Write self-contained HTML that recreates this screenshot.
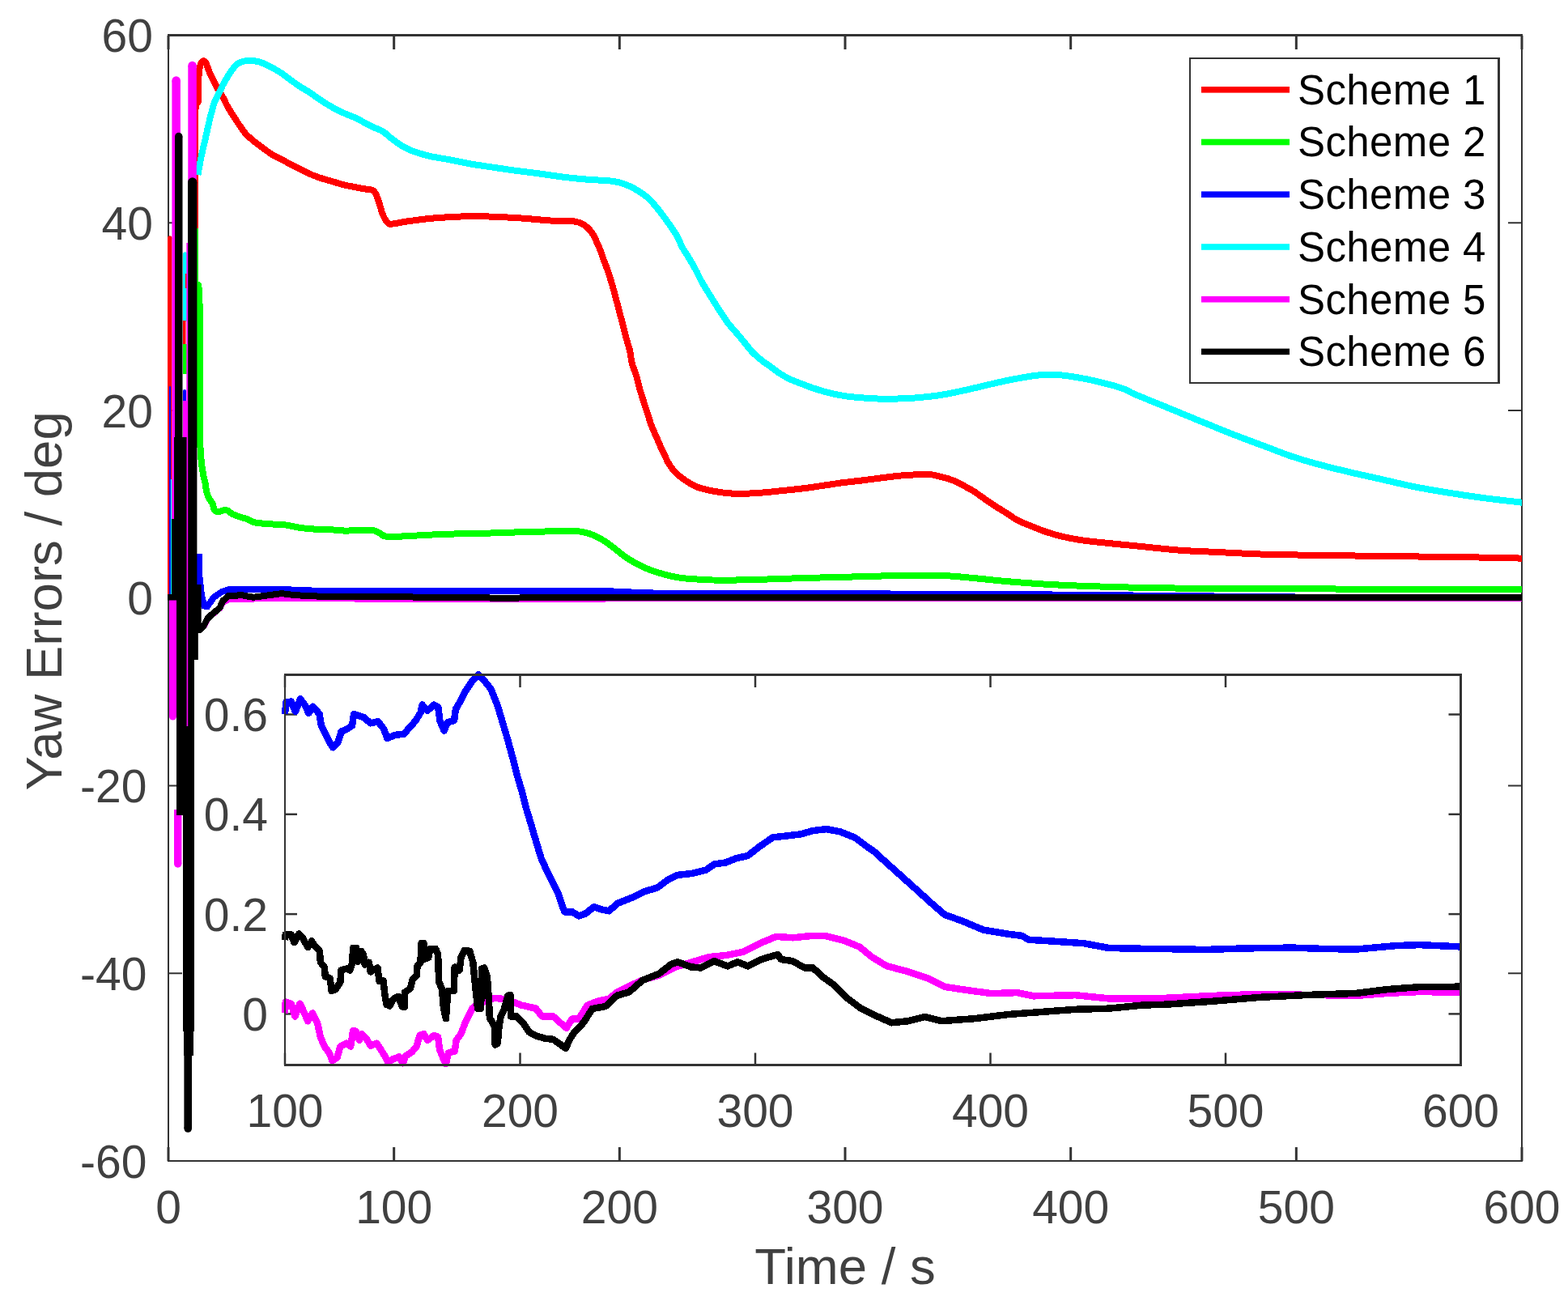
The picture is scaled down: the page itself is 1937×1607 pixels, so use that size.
<!DOCTYPE html>
<html><head><meta charset="utf-8"><title>Yaw Errors</title>
<style>
html,body{margin:0;padding:0;background:#fff;}
body{width:1937px;height:1607px;overflow:hidden;}
svg{display:block;}
text{font-family:"Liberation Sans",Arial,Helvetica,sans-serif;}
.tk{font-size:57px;fill:#404040;}
.lab{font-size:63.5px;fill:#404040;}
.lg{font-size:51px;fill:#000;letter-spacing:0.4px;}
</style></head>
<body>
<svg width="1937" height="1607" viewBox="0 0 1937 1607">
<rect x="0" y="0" width="1937" height="1607" fill="#ffffff"/>
<rect x="207" y="42" width="2" height="1393" fill="#333333"/>
<rect x="1879" y="42" width="2" height="1393" fill="#333333"/>
<rect x="207" y="42" width="1674" height="3" fill="#333333"/>
<rect x="207" y="1433" width="1674" height="2" fill="#333333"/>
<rect x="206.50" y="1417" width="3" height="17" fill="#333333"/>
<rect x="206.50" y="44" width="3" height="17" fill="#333333"/>
<rect x="485.17" y="1417" width="3" height="17" fill="#333333"/>
<rect x="485.17" y="44" width="3" height="17" fill="#333333"/>
<rect x="763.83" y="1417" width="3" height="17" fill="#333333"/>
<rect x="763.83" y="44" width="3" height="17" fill="#333333"/>
<rect x="1042.50" y="1417" width="3" height="17" fill="#333333"/>
<rect x="1042.50" y="44" width="3" height="17" fill="#333333"/>
<rect x="1321.17" y="1417" width="3" height="17" fill="#333333"/>
<rect x="1321.17" y="44" width="3" height="17" fill="#333333"/>
<rect x="1599.83" y="1417" width="3" height="17" fill="#333333"/>
<rect x="1599.83" y="44" width="3" height="17" fill="#333333"/>
<rect x="1878.50" y="1417" width="3" height="17" fill="#333333"/>
<rect x="1878.50" y="44" width="3" height="17" fill="#333333"/>
<rect x="208" y="42.50" width="17" height="2" fill="#333333"/>
<rect x="1863" y="42.50" width="17" height="2" fill="#333333"/>
<rect x="208" y="274.25" width="17" height="2" fill="#333333"/>
<rect x="1863" y="274.25" width="17" height="2" fill="#333333"/>
<rect x="208" y="506.00" width="17" height="2" fill="#333333"/>
<rect x="1863" y="506.00" width="17" height="2" fill="#333333"/>
<rect x="208" y="737.75" width="17" height="2" fill="#333333"/>
<rect x="1863" y="737.75" width="17" height="2" fill="#333333"/>
<rect x="208" y="969.50" width="17" height="2" fill="#333333"/>
<rect x="1863" y="969.50" width="17" height="2" fill="#333333"/>
<rect x="208" y="1201.25" width="17" height="2" fill="#333333"/>
<rect x="1863" y="1201.25" width="17" height="2" fill="#333333"/>
<rect x="208" y="1433.00" width="17" height="2" fill="#333333"/>
<rect x="1863" y="1433.00" width="17" height="2" fill="#333333"/>
<path d="M240.5,330.0 C240.6,306.7 240.8,222.5 241.0,190.0 C241.2,157.5 240.8,146.0 241.5,135.0 C242.2,124.0 244.5,130.7 245.2,124.0 C245.8,117.3 245.0,102.3 245.4,95.0 C245.8,87.7 246.6,83.3 247.5,80.0 C248.4,76.7 249.9,75.6 251.0,75.2 C252.1,74.8 253.3,76.3 254.2,77.5 C255.1,78.7 255.1,79.7 256.2,82.4 C257.3,85.1 259.0,89.9 260.7,93.6 C262.4,97.3 264.6,101.6 266.3,104.8 C268.0,108.0 269.4,110.4 271.0,113.0 C272.6,115.6 273.9,117.4 275.6,120.5 C277.3,123.6 278.4,126.8 281.2,131.7 C284.0,136.5 288.7,144.0 292.4,149.6 C296.1,155.2 299.9,161.0 303.6,165.3 C307.3,169.6 311.1,172.2 314.8,175.3 C318.5,178.4 322.3,181.0 326.0,183.7 C329.7,186.4 333.5,189.3 337.2,191.6 C340.9,193.8 344.7,195.2 348.4,197.2 C352.1,199.1 355.9,201.4 359.6,203.3 C363.3,205.2 367.1,207.0 370.8,208.9 C374.5,210.8 378.3,212.8 382.0,214.5 C385.7,216.2 389.5,217.7 393.2,219.0 C396.9,220.3 400.7,221.3 404.4,222.4 C408.1,223.5 411.9,224.6 415.6,225.7 C419.3,226.8 423.1,227.9 426.8,228.8 C430.5,229.7 434.3,230.3 438.0,231.0 C441.7,231.7 445.5,232.5 449.2,233.2 C452.9,233.9 457.8,233.9 460.4,235.0 C462.9,236.1 463.1,237.2 464.5,240.0 C465.9,242.8 467.3,247.4 468.7,251.7 C470.1,255.9 471.3,261.6 473.0,265.5 C474.7,269.4 477.0,273.0 478.8,274.9 C480.6,276.8 479.8,276.9 483.9,276.6 C488.0,276.4 495.3,274.5 503.4,273.4 C511.5,272.3 522.7,270.7 532.3,269.8 C541.9,268.9 552.1,268.3 561.2,267.9 C570.4,267.4 577.6,267.1 587.2,267.1 C596.8,267.1 608.9,267.7 619.0,268.1 C629.1,268.6 638.3,269.1 647.9,269.8 C657.5,270.5 668.4,271.7 676.8,272.3 C685.2,272.9 693.2,273.2 698.5,273.4 C703.8,273.5 705.0,272.6 708.6,273.2 C712.2,273.8 716.6,274.9 720.2,277.0 C723.8,279.1 727.4,282.2 730.3,286.0 C733.2,289.8 735.7,295.8 737.6,299.8 C739.5,303.8 740.6,306.5 741.9,309.8 C743.2,313.1 744.1,316.5 745.3,319.8 C746.5,323.1 747.9,326.4 749.1,329.7 C750.3,333.0 751.5,336.4 752.6,339.7 C753.7,343.0 754.6,346.3 755.6,349.6 C756.6,352.9 757.6,356.3 758.5,359.6 C759.4,362.9 760.1,366.3 761.0,369.6 C761.9,372.9 762.9,376.2 763.8,379.5 C764.7,382.8 765.4,386.2 766.3,389.5 C767.2,392.8 768.1,396.1 769.0,399.4 C769.9,402.7 770.7,406.3 771.5,409.4 C772.3,412.5 772.5,413.8 773.6,417.8 C774.7,421.8 776.9,428.1 778.1,433.3 C779.3,438.5 779.4,443.7 780.8,448.9 C782.1,454.1 784.7,459.3 786.2,464.5 C787.8,469.7 788.6,474.8 790.1,480.0 C791.6,485.2 793.3,490.4 795.0,495.6 C796.7,500.8 798.4,506.0 800.1,511.2 C801.8,516.4 803.2,521.8 805.1,526.7 C807.0,531.6 809.6,536.7 811.4,540.7 C813.2,544.8 814.2,547.6 815.7,551.0 C817.2,554.4 819.1,557.9 820.7,561.3 C822.3,564.7 823.5,568.1 825.5,571.6 C827.5,575.1 829.8,578.5 833.0,582.0 C836.2,585.5 840.1,589.0 844.9,592.3 C849.7,595.6 855.7,599.4 862.0,601.8 C868.3,604.2 875.7,605.6 882.6,606.9 C889.5,608.2 896.4,609.0 903.3,609.5 C910.2,610.0 917.0,609.8 923.9,609.6 C930.8,609.4 937.7,608.9 944.6,608.3 C951.5,607.7 957.6,607.0 965.2,606.2 C972.8,605.4 981.7,604.6 990.0,603.6 C998.3,602.6 1006.5,601.3 1014.8,600.1 C1023.1,598.9 1031.3,597.5 1039.6,596.4 C1047.9,595.3 1056.1,594.5 1064.4,593.5 C1072.7,592.5 1080.9,591.3 1089.2,590.3 C1097.5,589.3 1105.5,588.1 1114.0,587.4 C1122.5,586.7 1134.0,586.2 1140.0,586.0 C1146.0,585.8 1146.8,585.8 1150.3,586.2 C1153.8,586.6 1157.2,587.8 1160.7,588.6 C1164.2,589.4 1167.6,590.1 1171.0,591.2 C1174.4,592.3 1177.9,593.5 1181.3,595.0 C1184.7,596.5 1188.1,598.6 1191.6,600.5 C1195.0,602.4 1198.5,604.1 1202.0,606.3 C1205.5,608.4 1208.9,611.0 1212.3,613.4 C1215.7,615.8 1219.2,618.3 1222.6,620.6 C1226.0,622.9 1229.5,625.1 1232.9,627.3 C1236.4,629.5 1239.8,631.5 1243.3,633.7 C1246.8,635.9 1250.2,638.7 1253.6,640.7 C1257.0,642.7 1260.5,644.4 1263.9,645.9 C1267.3,647.4 1270.8,648.6 1274.2,650.0 C1277.7,651.4 1281.1,652.9 1284.6,654.2 C1288.0,655.5 1291.5,656.7 1294.9,657.8 C1298.3,658.9 1301.8,660.0 1305.2,660.9 C1308.6,661.8 1312.0,662.6 1315.5,663.4 C1319.0,664.2 1321.8,664.8 1325.9,665.5 C1330.0,666.2 1332.9,666.9 1340.0,667.8 C1347.1,668.7 1356.9,669.7 1368.5,670.9 C1380.1,672.1 1396.0,673.6 1409.8,675.0 C1423.6,676.4 1439.4,678.2 1451.1,679.2 C1462.8,680.2 1471.8,680.6 1480.0,681.0 C1488.2,681.4 1486.2,681.2 1500.0,681.8 C1513.8,682.4 1538.4,684.0 1562.6,684.7 C1586.8,685.4 1617.7,685.7 1645.2,686.1 C1672.7,686.5 1700.3,686.9 1727.8,687.2 C1755.3,687.6 1785.0,687.8 1810.4,688.2 C1835.8,688.6 1868.4,689.4 1880.0,689.6" fill="none" stroke="#ff0000" stroke-width="8" stroke-linejoin="round" shape-rendering="crispEdges"/>
<path d="M240.8,282.0 C240.8,293.7 240.1,338.0 241.0,352.0 C241.9,366.0 245.2,334.7 246.3,366.0 C247.4,397.3 246.9,506.0 247.3,540.0 C247.7,574.0 248.4,563.5 248.8,570.0 C249.2,576.5 249.5,576.2 250.0,579.3 C250.5,582.4 250.9,585.5 251.6,588.6 C252.2,591.7 253.3,594.8 253.9,597.9 C254.5,601.0 254.3,604.2 255.1,607.2 C255.9,610.2 257.3,613.5 258.5,616.0 C259.7,618.5 261.4,619.7 262.5,622.0 C263.6,624.3 263.8,628.3 265.0,630.0 C266.2,631.7 268.0,632.0 270.0,632.0 C272.0,632.0 275.2,630.3 277.2,630.1 C279.2,629.9 280.4,630.2 282.0,631.0 C283.6,631.8 284.2,633.4 286.5,634.6 C288.8,635.8 292.7,637.2 295.8,638.3 C298.9,639.4 302.0,639.9 305.1,641.1 C308.2,642.3 309.7,644.3 314.3,645.3 C318.9,646.3 326.7,646.8 332.9,647.3 C339.1,647.8 345.3,647.5 351.5,648.3 C357.7,649.0 363.9,650.9 370.1,651.8 C376.3,652.7 382.5,653.2 388.7,653.6 C394.9,654.0 401.0,653.8 407.3,654.1 C413.6,654.4 418.1,655.5 426.5,655.6 C434.9,655.7 450.6,654.2 457.5,654.6 C464.4,655.0 464.4,656.3 467.8,657.7 C471.2,659.1 471.2,662.2 478.1,662.9 C485.0,663.6 497.1,662.3 509.1,661.8 C521.1,661.3 535.2,660.3 550.4,659.8 C565.5,659.3 585.3,659.1 600.0,658.7 C614.7,658.3 623.7,657.8 638.7,657.4 C653.8,657.0 677.8,656.3 690.3,656.1 C702.8,655.9 707.6,655.7 713.9,656.2 C720.2,656.7 723.2,657.6 727.9,659.1 C732.5,660.6 737.1,662.8 741.8,665.4 C746.4,668.0 751.1,671.3 755.8,674.7 C760.4,678.1 765.1,682.6 769.7,685.9 C774.3,689.2 779.0,692.1 783.6,694.7 C788.2,697.3 793.0,699.7 797.6,701.7 C802.2,703.7 806.1,705.1 811.5,706.8 C816.9,708.5 823.9,710.6 830.1,711.9 C836.3,713.2 842.5,714.1 848.7,714.7 C854.9,715.4 862.1,715.5 867.3,715.8 C872.5,716.1 870.8,716.4 880.0,716.5 C889.2,716.6 904.8,716.7 922.7,716.3 C940.6,715.9 967.9,714.8 987.2,714.2 C1006.6,713.6 1020.0,713.4 1038.8,712.9 C1057.6,712.4 1082.9,711.6 1100.0,711.2 C1117.1,710.8 1129.2,710.6 1141.3,710.6 C1153.3,710.6 1162.0,710.8 1172.3,711.4 C1182.6,712.0 1191.2,713.0 1203.3,714.1 C1215.3,715.2 1230.8,717.0 1244.6,718.2 C1258.4,719.4 1272.1,720.4 1285.9,721.3 C1299.7,722.2 1310.0,722.7 1327.2,723.4 C1344.4,724.1 1368.4,724.9 1389.1,725.4 C1409.8,725.9 1432.6,726.2 1451.1,726.5 C1469.6,726.8 1466.8,726.9 1500.0,727.1 C1533.2,727.3 1586.7,727.4 1650.0,727.5 C1713.3,727.6 1841.7,727.9 1880.0,728.0" fill="none" stroke="#00ff00" stroke-width="8" stroke-linejoin="round" shape-rendering="crispEdges"/>
<polyline points="246.0,684.0 246.5,713.5 249.0,735.0 252.0,748.5 256.0,749.5 259.0,745.0 264.0,738.0 268.0,735.0 274.0,731.0 282.0,728.3 302.6,728.3 343.9,727.9 385.2,729.5 467.8,730.0 550.4,730.5 690.0,730.0 740.0,729.7 780.0,731.5 820.0,733.0 1100.0,733.5 1300.0,734.5 1500.0,736.5 1600.0,737.5 1880.0,737.5" fill="none" stroke="#0000ff" stroke-width="8" stroke-linejoin="round" stroke-linecap="butt" shape-rendering="crispEdges"/>
<path d="M244.5,216.0 C245.0,213.2 246.5,204.2 247.5,199.0 C248.5,193.8 249.5,189.5 250.5,185.0 C251.5,180.5 252.3,177.8 253.6,172.0 C254.9,166.2 256.7,157.4 258.5,150.0 C260.3,142.6 262.7,132.9 264.6,127.3 C266.5,121.7 268.2,120.3 270.0,116.5 C271.8,112.7 273.6,108.1 275.5,104.5 C277.4,100.9 279.4,97.7 281.2,94.7 C283.0,91.7 284.6,89.0 286.5,86.5 C288.4,84.0 290.5,81.2 292.4,79.6 C294.3,77.9 296.1,77.3 298.0,76.6 C299.9,75.9 300.8,75.5 303.6,75.3 C306.4,75.1 311.1,74.8 314.8,75.3 C318.5,75.8 322.3,77.0 326.0,78.5 C329.7,80.0 333.5,82.0 337.2,84.1 C340.9,86.1 344.7,88.3 348.4,90.8 C352.1,93.3 355.9,96.5 359.6,99.2 C363.3,101.9 367.1,104.6 370.8,107.0 C374.5,109.4 378.3,111.4 382.0,113.8 C385.7,116.2 389.5,119.1 393.2,121.6 C396.9,124.1 400.7,126.6 404.4,128.9 C408.1,131.2 411.9,133.4 415.6,135.3 C419.3,137.2 423.1,139.0 426.8,140.6 C430.5,142.2 434.3,143.4 438.0,145.1 C441.7,146.8 445.5,148.9 449.2,150.9 C452.9,152.9 456.5,155.1 460.4,156.9 C464.3,158.8 468.3,159.5 472.4,162.0 C476.5,164.5 480.7,168.8 484.8,171.9 C488.9,175.0 493.1,178.2 497.2,180.6 C501.3,183.0 505.5,184.9 509.6,186.6 C513.7,188.2 517.9,189.3 522.0,190.5 C526.1,191.7 528.1,192.3 534.3,193.6 C540.5,194.8 550.8,196.4 559.1,198.0 C567.4,199.6 575.6,201.5 583.9,202.9 C592.2,204.3 600.4,205.4 608.7,206.6 C617.0,207.8 625.2,209.2 633.5,210.3 C641.8,211.4 650.0,212.3 658.3,213.4 C666.5,214.5 676.0,215.9 683.0,216.9 C690.0,217.9 693.9,218.5 700.0,219.2 C706.1,219.9 713.1,220.6 719.6,221.2 C726.1,221.8 733.7,222.2 739.2,222.5 C744.7,222.8 748.1,222.8 752.4,223.3 C756.7,223.8 760.7,224.3 764.8,225.4 C768.9,226.5 773.1,227.9 777.2,229.8 C781.3,231.7 785.5,233.9 789.6,236.6 C793.7,239.3 797.9,242.0 802.0,245.9 C806.1,249.8 810.2,254.9 814.3,260.1 C818.4,265.3 823.0,271.6 826.7,276.9 C830.4,282.2 833.9,287.0 836.6,291.8 C839.3,296.6 840.3,300.9 842.8,305.5 C845.3,310.1 848.7,314.6 851.4,319.2 C854.1,323.8 856.8,328.3 859.2,332.9 C861.7,337.5 863.6,342.0 866.1,346.6 C868.6,351.2 871.5,355.7 874.3,360.3 C877.1,364.9 879.9,369.4 882.8,374.0 C885.7,378.6 888.8,383.4 891.7,387.7 C894.6,392.0 896.5,395.4 900.0,399.9 C903.5,404.4 908.7,409.8 912.9,414.8 C917.1,419.8 922.0,426.1 925.0,429.7 C928.0,433.3 928.3,433.9 931.0,436.5 C933.7,439.1 937.9,442.7 941.3,445.4 C944.7,448.1 948.1,450.2 951.6,452.7 C955.1,455.2 958.5,458.1 962.0,460.4 C965.5,462.7 968.9,464.8 972.3,466.6 C975.7,468.4 979.2,469.8 982.6,471.2 C986.0,472.6 989.5,473.8 992.9,475.1 C996.3,476.4 998.1,477.3 1003.3,479.0 C1008.5,480.7 1017.0,483.5 1023.9,485.2 C1030.8,486.9 1037.7,488.3 1044.6,489.3 C1051.5,490.3 1058.3,490.8 1065.2,491.4 C1072.1,491.9 1080.1,492.4 1085.9,492.6 C1091.7,492.8 1092.7,493.0 1100.0,492.8 C1107.3,492.6 1119.9,492.2 1129.9,491.5 C1139.9,490.8 1149.9,489.8 1159.9,488.3 C1169.9,486.8 1179.8,484.6 1189.8,482.5 C1199.8,480.4 1209.8,477.8 1219.8,475.5 C1229.8,473.2 1239.7,470.8 1249.7,468.9 C1259.7,466.9 1272.2,464.8 1279.7,463.8 C1287.2,462.8 1289.6,463.0 1294.6,462.9 C1299.6,462.8 1302.1,462.4 1309.6,463.2 C1317.1,464.0 1329.6,465.9 1339.6,467.8 C1349.6,469.7 1361.1,472.5 1369.5,474.7 C1377.9,476.9 1384.8,479.0 1390.0,481.0 C1395.2,483.0 1392.0,482.8 1400.7,486.5 C1409.4,490.2 1428.2,497.8 1442.0,503.4 C1455.8,509.0 1469.5,514.8 1483.3,520.4 C1497.1,526.0 1510.8,531.7 1524.6,537.1 C1538.4,542.5 1554.2,548.2 1565.9,552.6 C1577.6,557.0 1585.2,560.2 1595.0,563.5 C1604.8,566.8 1612.8,569.3 1624.6,572.5 C1636.4,575.7 1652.1,579.6 1665.9,582.9 C1679.7,586.2 1693.4,589.1 1707.2,592.2 C1721.0,595.3 1734.7,598.8 1748.5,601.5 C1762.3,604.2 1776.0,606.5 1789.8,608.7 C1803.6,610.9 1816.1,612.9 1831.1,614.9 C1846.1,616.9 1871.8,619.7 1880.0,620.7" fill="none" stroke="#00ffff" stroke-width="8" stroke-linejoin="round" shape-rendering="crispEdges"/>
<polyline points="244.0,772.0 248.0,777.0 252.0,773.0 256.0,765.0 261.0,760.0 266.0,756.0 272.0,750.5 275.0,744.0 282.0,740.5 320.0,739.3 600.0,739.8 1000.0,739.0 1500.0,739.0 1880.0,739.0" fill="none" stroke="#ff00ff" stroke-width="8" stroke-linejoin="round" stroke-linecap="butt" shape-rendering="crispEdges"/>
<polyline points="244.0,770.0 248.0,777.0 252.0,772.5 256.0,764.5 261.0,759.5 266.0,755.5 272.0,750.0 275.0,742.5 282.0,736.2 298.5,735.2 312.9,737.8 348.0,733.1 364.6,735.2 405.9,737.2 467.8,737.2 550.4,737.8 620.0,738.7 700.0,738.0 1000.0,738.2 1100.0,737.6 1160.0,738.2 1880.0,737.9" fill="none" stroke="#000000" stroke-width="8" stroke-linejoin="round" stroke-linecap="butt" shape-rendering="crispEdges"/>
<rect x="207" y="294" width="5.5" height="445" fill="#ff0000"/><circle cx="209.75" cy="294" r="2.75" fill="#ff0000"/>
<rect x="208.9" y="478" width="2.0999999999999943" height="256" fill="#0000ff"/><circle cx="209.95" cy="478" r="1.0499999999999972" fill="#0000ff"/>
<rect x="210.9" y="592" width="1.299999999999983" height="142" fill="#00ffff"/>
<rect x="212.4" y="99.5" width="10.5" height="600.5" fill="#ff00ff"/><circle cx="217.65" cy="99.5" r="5.25" fill="#ff00ff"/>
<rect x="226" y="314" width="5.400000000000006" height="83" fill="#00ffff"/><circle cx="228.7" cy="314" r="2.700000000000003" fill="#00ffff"/>
<rect x="229" y="338" width="3" height="18" fill="#ff0000"/>
<rect x="226" y="396" width="3.5" height="29" fill="#ff0000"/>
<rect x="226" y="425" width="6" height="37" fill="#00ff00"/>
<rect x="226" y="483" width="4" height="14" fill="#0000ff"/><circle cx="228.0" cy="483" r="2.0" fill="#0000ff"/>
<rect x="226" y="495" width="5" height="50" fill="#ff00ff"/>
<rect x="232.3" y="81" width="10.5" height="219" fill="#ff00ff"/><circle cx="237.55" cy="81" r="5.25" fill="#ff00ff"/>
<rect x="230.6" y="300" width="1.5999999999999943" height="597" fill="#ff00ff"/>
<rect x="209" y="741" width="9" height="144" fill="#ff00ff"/><circle cx="213.5" cy="885" r="4.5" fill="#ff00ff"/>
<rect x="215" y="1000" width="9.400000000000006" height="67" fill="#ff00ff"/><circle cx="219.7" cy="1067" r="4.700000000000003" fill="#ff00ff"/>
<rect x="216" y="168.5" width="9.5" height="572.5" fill="#000000"/><circle cx="220.75" cy="168.5" r="4.75" fill="#000000"/>
<rect x="232" y="225" width="11.400000000000006" height="590" fill="#000000"/><circle cx="237.7" cy="225" r="5.700000000000003" fill="#000000"/>
<rect x="215" y="540" width="16" height="201" fill="#000000"/>
<rect x="212" y="641" width="19" height="93" fill="#000000"/>
<rect x="207" y="734" width="11" height="7.5" fill="#000000"/>
<rect x="218" y="741" width="22" height="266" fill="#000000"/>
<rect x="226" y="1000" width="14" height="274" fill="#000000"/>
<rect x="227" y="1270" width="12" height="34" fill="#000000"/>
<rect x="227.4" y="1300" width="9.599999999999994" height="94" fill="#000000"/><circle cx="232.2" cy="1394" r="4.799999999999997" fill="#000000"/>
<rect x="232" y="741" width="12.800000000000011" height="74" fill="#000000"/>
<rect x="240" y="722" width="8.699999999999989" height="60" fill="#000000"/>
<rect x="230.6" y="300" width="1.5999999999999943" height="597" fill="#ff00ff"/>
<text x="188.9" y="64.0" text-anchor="end" class="tk">60</text>
<text x="188.9" y="295.8" text-anchor="end" class="tk">40</text>
<text x="188.9" y="527.5" text-anchor="end" class="tk">20</text>
<text x="188.9" y="759.2" text-anchor="end" class="tk">0</text>
<text x="181.4" y="991.0" text-anchor="end" class="tk">-20</text>
<text x="181.4" y="1222.8" text-anchor="end" class="tk">-40</text>
<text x="181.4" y="1454.5" text-anchor="end" class="tk">-60</text>
<text x="208.0" y="1510.5" text-anchor="middle" class="tk">0</text>
<text x="486.7" y="1510.5" text-anchor="middle" class="tk">100</text>
<text x="765.3" y="1510.5" text-anchor="middle" class="tk">200</text>
<text x="1044.0" y="1510.5" text-anchor="middle" class="tk">300</text>
<text x="1322.7" y="1510.5" text-anchor="middle" class="tk">400</text>
<text x="1601.3" y="1510.5" text-anchor="middle" class="tk">500</text>
<text x="1880.0" y="1510.5" text-anchor="middle" class="tk">600</text>
<text x="1044" y="1585.5" text-anchor="middle" class="lab">Time / s</text>
<text transform="translate(76,742.4) rotate(-90)" text-anchor="middle" class="lab">Yaw Errors / deg</text>
<rect x="1469" y="71" width="384" height="403" fill="#ffffff"/>
<rect x="1469" y="71" width="2" height="403" fill="#333333"/>
<rect x="1850" y="71" width="3" height="403" fill="#333333"/>
<rect x="1469" y="71" width="384" height="2" fill="#333333"/>
<rect x="1469" y="472" width="384" height="2" fill="#333333"/>
<rect x="1484" y="107.0" width="109" height="7.6" fill="#ff0000"/>
<text x="1603" y="128.6" class="lg">Scheme 1</text>
<rect x="1484" y="171.7" width="109" height="7.6" fill="#00ff00"/>
<text x="1603" y="193.3" class="lg">Scheme 2</text>
<rect x="1484" y="236.4" width="109" height="7.6" fill="#0000ff"/>
<text x="1603" y="258.0" class="lg">Scheme 3</text>
<rect x="1484" y="301.2" width="109" height="7.6" fill="#00ffff"/>
<text x="1603" y="322.8" class="lg">Scheme 4</text>
<rect x="1484" y="365.9" width="109" height="7.6" fill="#ff00ff"/>
<text x="1603" y="387.5" class="lg">Scheme 5</text>
<rect x="1484" y="430.6" width="109" height="7.6" fill="#000000"/>
<text x="1603" y="452.2" class="lg">Scheme 6</text>
<rect x="352" y="833.5" width="1452.5" height="481.5" fill="#ffffff"/>
<rect x="350.75" y="1300.5" width="2.5" height="15" fill="#333333"/>
<rect x="350.75" y="834" width="2.5" height="15" fill="#333333"/>
<rect x="641.25" y="1300.5" width="2.5" height="15" fill="#333333"/>
<rect x="641.25" y="834" width="2.5" height="15" fill="#333333"/>
<rect x="931.75" y="1300.5" width="2.5" height="15" fill="#333333"/>
<rect x="931.75" y="834" width="2.5" height="15" fill="#333333"/>
<rect x="1222.25" y="1300.5" width="2.5" height="15" fill="#333333"/>
<rect x="1222.25" y="834" width="2.5" height="15" fill="#333333"/>
<rect x="1512.75" y="1300.5" width="2.5" height="15" fill="#333333"/>
<rect x="1512.75" y="834" width="2.5" height="15" fill="#333333"/>
<rect x="1803.25" y="1300.5" width="2.5" height="15" fill="#333333"/>
<rect x="1803.25" y="834" width="2.5" height="15" fill="#333333"/>
<rect x="352" y="881.25" width="15" height="2.5" fill="#333333"/>
<rect x="1789.5" y="881.25" width="15" height="2.5" fill="#333333"/>
<rect x="352" y="1004.55" width="15" height="2.5" fill="#333333"/>
<rect x="1789.5" y="1004.55" width="15" height="2.5" fill="#333333"/>
<rect x="352" y="1127.85" width="15" height="2.5" fill="#333333"/>
<rect x="1789.5" y="1127.85" width="15" height="2.5" fill="#333333"/>
<rect x="352" y="1251.15" width="15" height="2.5" fill="#333333"/>
<rect x="1789.5" y="1251.15" width="15" height="2.5" fill="#333333"/>
<polyline points="352.0,882.0 353.4,867.5 359.6,866.5 364.8,878.9 371.0,863.4 377.2,871.6 381.3,880.9 386.5,872.7 394.7,882.0 396.8,896.4 402.0,906.7 406.1,915.0 411.2,923.3 417.4,917.1 421.6,903.6 428.8,900.5 435.0,896.4 437.1,882.0 443.3,884.0 449.4,886.1 457.7,893.3 467.0,891.2 474.2,900.5 478.4,911.9 488.7,907.8 499.0,906.7 505.2,899.5 513.5,890.2 519.7,879.9 521.7,870.6 527.9,877.8 536.2,870.6 541.3,873.7 543.4,890.2 548.6,902.6 552.7,892.3 561.0,890.2 563.0,875.8 569.2,865.4 575.4,853.0 583.7,840.7 590.9,833.4 598.1,840.7 606.4,851.0 614.7,871.6 620.8,892.3 627.0,912.9 633.2,935.6 638.4,956.3 644.6,977.0 649.8,997.6 656.0,1018.2 662.1,1038.9 668.3,1059.5 676.6,1078.1 684.0,1092.0 690.0,1105.0 695.0,1120.0 697.6,1126.3 706.8,1126.3 715.1,1131.5 723.4,1128.4 733.7,1120.1 742.0,1123.2 752.3,1125.3 762.6,1116.0 772.9,1111.8 783.3,1107.7 795.6,1101.5 812.2,1096.3 824.6,1087.1 836.9,1080.9 855.5,1078.8 872.0,1074.7 882.4,1067.4 896.8,1065.4 909.2,1060.2 923.7,1057.1 938.1,1045.8 954.7,1034.4 973.2,1032.3 989.8,1030.3 1004.2,1026.1 1020.7,1024.1 1037.3,1027.2 1055.8,1034.4 1068.2,1043.7 1080.0,1052.0 1091.0,1062.0 1111.6,1080.5 1132.3,1099.1 1152.9,1117.7 1167.4,1130.1 1188.0,1137.3 1214.9,1148.7 1245.9,1153.8 1262.4,1155.9 1270.6,1160.7 1307.8,1163.1 1338.8,1165.2 1369.8,1171.0 1411.1,1171.8 1460.0,1172.4 1489.0,1173.0 1538.1,1171.4 1597.0,1170.6 1636.2,1172.0 1675.4,1172.6 1724.5,1168.1 1753.9,1167.1 1804.5,1169.4" fill="none" stroke="#0000ff" stroke-width="8.5" stroke-linejoin="round" stroke-linecap="butt" shape-rendering="crispEdges"/>
<polyline points="352.0,1251.5 352.8,1237.7 359.6,1239.7 364.5,1255.4 370.4,1239.7 374.3,1247.5 380.2,1261.3 386.1,1251.5 392.0,1263.2 395.9,1280.9 400.8,1292.6 406.7,1300.5 410.6,1310.3 416.5,1306.4 420.4,1292.6 428.3,1288.7 433.2,1292.6 436.1,1273.0 440.1,1274.0 444.0,1284.8 446.9,1277.0 453.8,1284.8 457.7,1291.7 465.6,1288.7 470.5,1296.6 475.4,1304.4 479.3,1312.3 485.2,1308.3 493.0,1305.4 497.9,1313.3 500.9,1304.4 508.7,1299.5 514.6,1292.6 518.5,1278.9 523.4,1277.0 528.3,1284.8 536.2,1278.9 541.1,1280.9 543.1,1296.6 548.0,1308.3 550.9,1314.2 553.9,1300.5 561.7,1298.5 563.7,1284.8 569.5,1277.0 575.4,1261.3 583.3,1245.6 591.1,1239.7 602.9,1235.8 610.7,1232.8 620.6,1233.8 634.3,1237.7 644.1,1241.6 661.8,1245.6 669.6,1255.4 683.3,1255.4 690.3,1261.6 699.6,1269.8 706.8,1258.5 715.1,1258.5 725.4,1241.9 737.8,1236.8 752.3,1233.7 762.6,1225.4 779.1,1217.2 795.6,1209.9 814.2,1204.8 834.9,1194.4 855.5,1188.2 876.2,1182.0 896.8,1180.0 917.5,1175.9 938.1,1165.5 958.8,1156.9 979.4,1158.3 1000.1,1156.2 1020.7,1156.2 1041.4,1161.4 1062.0,1169.7 1076.5,1181.7 1095.1,1193.1 1122.0,1200.3 1146.7,1208.6 1167.4,1218.9 1194.2,1223.0 1225.2,1227.2 1256.2,1226.1 1276.8,1230.3 1328.5,1229.2 1369.8,1233.4 1411.1,1233.4 1440.0,1232.8 1498.9,1229.9 1557.7,1227.9 1616.6,1228.9 1675.4,1229.9 1714.7,1226.9 1753.9,1225.0 1804.5,1225.9" fill="none" stroke="#ff00ff" stroke-width="8.5" stroke-linejoin="round" stroke-linecap="butt" shape-rendering="crispEdges"/>
<polyline points="352.0,1161.2 352.8,1154.3 359.6,1154.3 363.5,1164.1 369.4,1153.4 374.3,1159.2 380.2,1170.0 385.1,1162.2 388.1,1168.1 394.9,1174.9 395.9,1188.7 400.8,1194.6 401.8,1206.3 407.7,1208.3 409.6,1224.0 414.6,1222.0 420.4,1213.2 421.4,1198.5 428.3,1196.5 432.2,1198.5 435.2,1189.6 436.1,1171.0 440.1,1171.0 442.0,1187.7 446.0,1174.9 448.9,1178.9 450.8,1191.6 455.8,1188.7 457.7,1200.4 462.6,1197.5 466.5,1195.5 468.5,1212.2 473.4,1211.2 475.4,1227.9 477.3,1240.7 481.3,1242.6 486.2,1233.8 492.1,1230.8 497.0,1243.6 499.9,1243.6 499.9,1225.9 506.8,1221.0 509.7,1209.3 514.6,1205.3 515.6,1192.6 519.5,1188.7 520.5,1165.1 523.4,1165.1 524.4,1184.7 529.3,1182.8 531.3,1172.0 538.2,1172.0 541.1,1178.9 542.1,1212.2 546.0,1222.0 548.0,1245.6 550.9,1258.3 552.9,1229.9 553.9,1224.0 560.7,1224.0 561.7,1194.6 567.6,1198.5 569.5,1182.8 573.5,1174.0 580.3,1174.9 584.3,1188.7 587.2,1218.1 590.1,1245.6 594.1,1245.6 595.1,1196.5 598.0,1195.5 601.9,1206.3 603.9,1235.8 604.9,1257.3 610.7,1267.1 611.7,1290.7 614.7,1288.7 616.6,1267.1 618.6,1255.4 622.5,1247.5 627.4,1229.9 630.4,1228.9 631.3,1255.4 638.2,1255.4 646.1,1263.2 653.9,1275.0 663.7,1279.9 673.5,1282.8 683.3,1283.8 693.1,1290.7 699.0,1295.0 703.0,1285.0 708.9,1276.0 721.3,1262.6 731.6,1246.1 748.1,1243.0 762.6,1229.5 777.1,1225.4 793.6,1211.0 814.2,1202.7 828.7,1191.3 836.9,1188.2 853.5,1194.4 865.9,1195.5 882.4,1187.2 898.9,1193.4 911.3,1188.2 923.7,1193.4 940.2,1185.1 960.8,1179.0 965.0,1185.1 979.4,1187.2 993.9,1195.5 1004.2,1195.5 1016.6,1206.8 1031.1,1217.2 1047.6,1233.7 1064.1,1246.0 1080.6,1254.0 1101.3,1263.3 1122.0,1261.2 1142.6,1256.1 1163.3,1261.2 1204.6,1258.1 1245.9,1253.0 1287.2,1249.9 1328.5,1246.8 1369.8,1245.7 1411.1,1241.6 1440.0,1240.7 1498.9,1236.7 1557.7,1231.8 1616.6,1228.9 1675.4,1226.9 1714.7,1222.0 1753.9,1219.1 1804.5,1218.7" fill="none" stroke="#000000" stroke-width="8.5" stroke-linejoin="round" stroke-linecap="butt" shape-rendering="crispEdges"/>
<rect x="351" y="832" width="2" height="485" fill="#333333"/>
<rect x="1803" y="832" width="3" height="485" fill="#333333"/>
<rect x="351" y="832" width="1455" height="3" fill="#333333"/>
<rect x="351" y="1314" width="1455" height="3" fill="#333333"/>
<text x="331" y="903.0" text-anchor="end" class="tk">0.6</text>
<text x="331" y="1026.3" text-anchor="end" class="tk">0.4</text>
<text x="331" y="1149.6" text-anchor="end" class="tk">0.2</text>
<text x="331" y="1272.9" text-anchor="end" class="tk">0</text>
<text x="352.0" y="1392" text-anchor="middle" class="tk">100</text>
<text x="642.5" y="1392" text-anchor="middle" class="tk">200</text>
<text x="933.0" y="1392" text-anchor="middle" class="tk">300</text>
<text x="1223.5" y="1392" text-anchor="middle" class="tk">400</text>
<text x="1514.0" y="1392" text-anchor="middle" class="tk">500</text>
<text x="1804.5" y="1392" text-anchor="middle" class="tk">600</text>
</svg>
</body></html>
